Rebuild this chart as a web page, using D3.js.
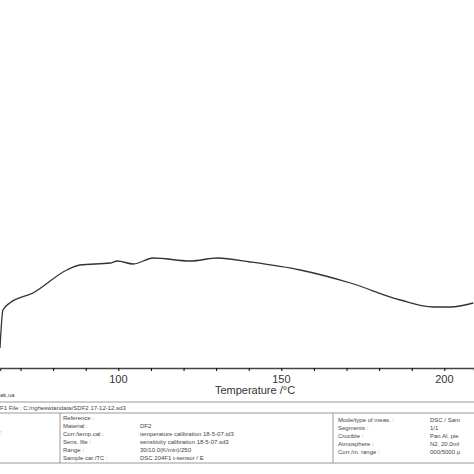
<!DOCTYPE html>
<html>
<head>
  <script src="https://d3js.org/d3.v7.min.js"></script>
  <style>body{margin:0;background:#fff}</style>
</head>
<body>
<div id="chart"></div>
<script>
  // Temperature (°C) and DSC heat flow (arbitrary units)
  var temps = [63.7, 64.6, 66.7, 73.8, 84.2, 88.2, 97.5, 99.7, 104.6, 110.7, 122.1, 130.4, 140.5, 155.8, 171.2, 186.5, 196.6, 201.8, 208.9];
  var heat  = [20, 58, 65, 75, 98, 103, 105, 107, 104, 110, 107, 110, 106, 98, 85, 68, 61, 61, 65];
  var ticks = [100, 150, 200];

  var W = 474, H = 474;
  var svg = d3.select("#chart").append("svg").attr("width", W).attr("height", H)
    .style("font-family", "Liberation Sans, Arial, sans-serif");

  var x = d3.scaleLinear().domain([63.7, 209.1]).range([0, 474]);
  var y = d3.scaleLinear().domain([0, 368]).range([368, 0]);

  svg.append("path")
    .datum(d3.zip(temps, heat))
    .attr("fill", "none").attr("stroke", "#333").attr("stroke-width", 1.3)
    .attr("d", d3.line().x(d => x(d[0])).y(d => y(d[1])).curve(d3.curveMonotoneX));

  var ax = svg.append("g").attr("transform", "translate(0,368)")
    .call(d3.axisBottom(x).tickValues(d3.range(70, 210, 10)).tickSize(3).tickFormat(""));
  ax.select(".domain").attr("stroke", "#444").attr("stroke-width", 1.5);

  svg.selectAll(".tl").data(ticks).enter().append("text")
    .attr("x", d => x(d)).attr("y", 383).attr("text-anchor", "middle")
    .attr("font-size", 11).attr("fill", "#333").text(d => d);
  svg.append("text").attr("x", 255).attr("y", 394).attr("text-anchor", "middle")
    .attr("font-size", 11).attr("fill", "#333").text("Temperature /°C");

  // Instrument info table
  var g = svg.append("g").attr("fill", "#444").attr("font-size", 6);
  g.append("text").attr("x", 0).attr("y", 397).text("ak,ua");
  g.append("line").attr("x1", 0).attr("x2", 474).attr("y1", 402).attr("y2", 402).attr("stroke", "#999");
  g.append("text").attr("x", 0).attr("y", 410).text("F1   File :   C:/ngheswtandata/SDF2 17-12-12.sd3");
  g.append("line").attr("x1", 0).attr("x2", 474).attr("y1", 413).attr("y2", 413).attr("stroke", "#999");
  g.append("line").attr("x1", 0).attr("x2", 474).attr("y1", 463).attr("y2", 463).attr("stroke", "#999");
  g.append("line").attr("x1", 60).attr("x2", 60).attr("y1", 413).attr("y2", 463).attr("stroke", "#999");
  g.append("line").attr("x1", 333).attr("x2", 333).attr("y1", 413).attr("y2", 463).attr("stroke", "#999");
  g.append("text").attr("x", 0).attr("y", 434).text(":");

  var leftL = ["Reference :", "Material :", "Corr./temp.cal :", "Sens. file :", "Range :", "Sample car./TC :"];
  var leftV = ["", "DF2", "temperature calibration 18-5-07.td3", "sensitivity calibration 18-5-07.sd3", "30/10.0(K/min)/250", "DSC 204F1 t-sensor / E"];
  var rightL = ["Mode/type of meas. :", "Segments :", "Crucible :", "Atmosphere :", "Corr./m. range :"];
  var rightV = ["DSC / Sam", "1/1", "Pan Al, pie", "N2, 20.0ml", "000/5000 µ"];
  leftL.forEach((t, i) => g.append("text").attr("x", 63).attr("y", 420 + i * 8).text(t));
  leftV.forEach((t, i) => g.append("text").attr("x", 140).attr("y", 420 + i * 8).text(t));
  rightL.forEach((t, i) => g.append("text").attr("x", 338).attr("y", 422 + i * 8).text(t));
  rightV.forEach((t, i) => g.append("text").attr("x", 430).attr("y", 422 + i * 8).text(t));
</script>
</body>
</html>
